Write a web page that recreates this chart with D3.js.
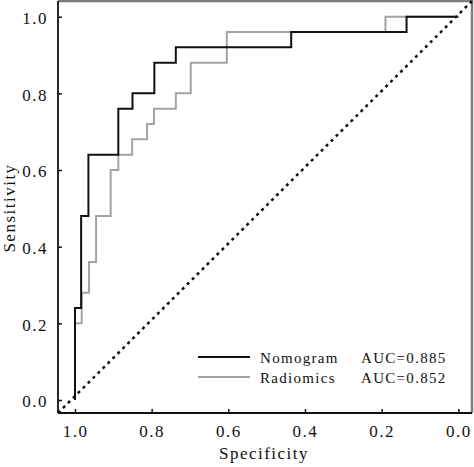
<!DOCTYPE html>
<html>
<head>
<meta charset="utf-8">
<script src="https://cdn.jsdelivr.net/npm/d3@7"></script>
<style>
  body { margin: 0; background: #fff; }
  svg text { font-family: "Liberation Serif", "Times New Roman", "DejaVu Serif", serif !important; fill: #111; }
</style>
</head>
<body>
<div id="chart"></div>
<script>
// ROC curves, specificity runs 1 -> 0 left to right

// nomogram curve corner points
var nomoSpec = [1, 1, 0.984, 0.965, 0.887, 0.85, 0.793, 0.737, 0.436, 0.135, 0];
var nomoSens = [0, 0.24, 0.48, 0.64, 0.76, 0.80, 0.88, 0.92, 0.96, 1.0, 1.0];

// radiomics curve corner points
var radSpec = [1, 1, 0.9825, 0.9635, 0.945, 0.907, 0.887, 0.851, 0.812, 0.794, 0.737, 0.698, 0.604, 0.19, 0];
var radSens = [0, 0.20, 0.28, 0.36, 0.48, 0.60, 0.64, 0.68, 0.72, 0.76, 0.80, 0.88, 0.96, 1.0, 1.0];

var seriesNames = ['Nomogram', 'Radiomics'];
var aucLabels = ['AUC=0.885', 'AUC=0.852'];

var xTicks = [1.0, 0.8, 0.6, 0.4, 0.2, 0.0];
var yTicks = [0.0, 0.2, 0.4, 0.6, 0.8, 1.0];

// svg area
var svgWidth = 474;
var svgHeight = 467;

// plot box edges
var box = { left: 58, right: 472, top: 1, bottom: 413 };

var svg = d3.select('#chart')
  .append('svg')
  .attr('width', svgWidth)
  .attr('height', svgHeight);

// scales
var xScale = d3.scaleLinear()
  .domain([1, 0])
  .range([75, 458.3]);

var yScale = d3.scaleLinear()
  .domain([0, 1])
  .range([400, 16.7]);

// top and right frame in gray
svg.append('path')
  .attr('d', `M${box.left},${box.top}H${box.right}V${box.bottom}`)
  .attr('fill', 'none')
  .attr('stroke', '#7d7d7d')
  .attr('stroke-width', 2.5);

// chance line corner to corner
var diag = [
  [xScale.invert(box.left), yScale.invert(box.bottom)],
  [xScale.invert(box.right), yScale.invert(box.top)]
];
svg.append('line')
  .attr('x1', xScale(diag[0][0]))
  .attr('y1', yScale(diag[0][1]))
  .attr('x2', xScale(diag[1][0]))
  .attr('y2', yScale(diag[1][1]))
  .attr('stroke', '#111')
  .attr('stroke-width', 2.5)
  .attr('stroke-dasharray', '3,4');

// step lines
var line = d3.line()
  .x(d => xScale(d[0]))
  .y(d => yScale(d[1]))
  .curve(d3.curveStepAfter);

var radPoints = radSpec.map((s, i) => [s, radSens[i]]);
var nomoPoints = nomoSpec.map((s, i) => [s, nomoSens[i]]);

svg.append('path')
  .datum(radPoints)
  .attr('d', line)
  .attr('fill', 'none')
  .attr('stroke', '#a3a3a3')
  .attr('stroke-width', 2);

svg.append('path')
  .datum(nomoPoints)
  .attr('d', line)
  .attr('fill', 'none')
  .attr('stroke', '#111')
  .attr('stroke-width', 2);

// axes, ticks point inward
var bottomAxis = d3.axisBottom(xScale)
  .tickValues(xTicks)
  .tickSize(-4)
  .tickFormat(d3.format('.1f'));

var leftAxis = d3.axisLeft(yScale)
  .tickValues(yTicks)
  .tickSize(-4)
  .tickFormat(d3.format('.1f'));

var xAxis = svg.append('g')
  .attr('transform', `translate(0, ${box.bottom})`)
  .call(bottomAxis);

var yAxis = svg.append('g')
  .attr('transform', `translate(${box.left}, 0)`)
  .call(leftAxis);

svg.selectAll('g').attr('font-family', null);

// redraw the domain lines across the full box
xAxis.select('.domain')
  .attr('d', `M${box.left},0H${box.right}`)
  .attr('stroke', '#111')
  .attr('stroke-width', 1.8);
yAxis.select('.domain')
  .attr('d', `M0,${box.top}V${box.bottom}`)
  .attr('stroke', '#111')
  .attr('stroke-width', 1.8);

svg.selectAll('.tick line')
  .attr('stroke', '#111')
  .attr('stroke-width', 1.5);

xAxis.selectAll('.tick text')
  .attr('y', 24)
  .attr('dy', 0)
  .style('font-size', '17px')
  .style('letter-spacing', '1.5px');

yAxis.selectAll('.tick text')
  .attr('x', -10)
  .attr('dy', '0.4em')
  .style('font-size', '17px')
  .style('letter-spacing', '1.5px');

// axis titles
svg.append('text')
  .attr('x', 264)
  .attr('y', 459)
  .attr('text-anchor', 'middle')
  .style('font-size', '17px')
  .style('letter-spacing', '1.5px')
  .text('Specificity');

svg.append('text')
  .attr('transform', 'rotate(-90)')
  .attr('x', -208)
  .attr('y', 14.5)
  .attr('text-anchor', 'middle')
  .style('font-size', '17px')
  .style('letter-spacing', '1.5px')
  .text('Sensitivity');

// legend
var legendColors = ['#111', '#a3a3a3'];
var legend = svg.append('g')
  .attr('transform', 'translate(198, 357)');

seriesNames.forEach(function (name, i) {
  var row = legend.append('g')
    .attr('transform', `translate(0, ${i * 20})`);
  row.append('line')
    .attr('x1', 0)
    .attr('x2', 52)
    .attr('stroke', legendColors[i])
    .attr('stroke-width', 2);
  row.append('text')
    .attr('x', 62)
    .attr('y', 6)
    .style('font-size', '15px')
    .style('letter-spacing', '1.3px')
    .text(name);
  row.append('text')
    .attr('x', 163)
    .attr('y', 6)
    .style('font-size', '15px')
    .style('letter-spacing', '1.3px')
    .text(aucLabels[i]);
});
</script>
</body>
</html>
